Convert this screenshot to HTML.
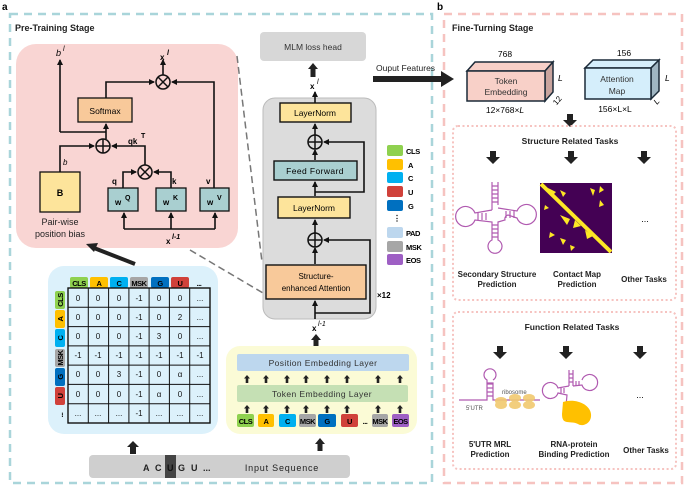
<!DOCTYPE html>
<html><head><meta charset="utf-8"><style>
body{margin:0;background:#fff}
text{font-family:"Liberation Sans",sans-serif;}
</style></head><body>
<svg width="685" height="486" viewBox="0 0 685 486" xmlns="http://www.w3.org/2000/svg">
<defs>
<marker id="ah" markerWidth="6" markerHeight="6" refX="5" refY="3" orient="auto" markerUnits="userSpaceOnUse"><path d="M0,0 L6,3 L0,6 Z" fill="#111"/></marker>
</defs>
<!-- panels -->
<text x="2" y="10" font-size="10" font-weight="bold">a</text>
<text x="437" y="10" font-size="10" font-weight="bold">b</text>
<rect x="10" y="14" width="422" height="469" fill="none" stroke="#a9d5da" stroke-width="2.5" stroke-dasharray="8,6"/>
<rect x="444" y="14" width="238" height="469" fill="none" stroke="#f6c3c0" stroke-width="2.5" stroke-dasharray="8,6"/>
<text x="15" y="31" font-size="9" font-weight="bold" fill="#222">Pre-Training Stage</text>
<text x="452" y="31" font-size="9" font-weight="bold" fill="#222">Fine-Turning Stage</text>

<!-- attention detail -->
<rect x="16" y="44" width="222" height="204" rx="20" fill="#f9d5d3"/>
<g stroke="#111" stroke-width="1.6" fill="none">
<line x1="60" y1="132" x2="60" y2="60" marker-end="url(#ah)"/>
<polyline points="106,132 60,132"/>
<line x1="106" y1="139" x2="106" y2="124" marker-end="url(#ah)"/>
<polyline points="106,98 106,82 154,82" marker-end="url(#ah)"/>
<polyline points="214,188 214,82 172,82" marker-end="url(#ah)"/>
<line x1="163" y1="75" x2="163" y2="60" marker-end="url(#ah)"/>
<polyline points="60,172 60,146 94,146" marker-end="url(#ah)"/>
<polyline points="145,165 145,146 112,146" marker-end="url(#ah)"/>
<polyline points="123,188 123,172 136,172" marker-end="url(#ah)"/>
<polyline points="171,188 171,172 154,172" marker-end="url(#ah)"/>
<polyline points="124,229 215,229"/>
<line x1="124" y1="229" x2="124" y2="213" marker-end="url(#ah)"/>
<line x1="171" y1="229" x2="171" y2="213" marker-end="url(#ah)"/>
<line x1="215" y1="229" x2="215" y2="213" marker-end="url(#ah)"/>
</g>
<g stroke="#111" stroke-width="1.5" fill="#f9d5d3">
<circle cx="163" cy="82" r="7"/><path d="M158,77 L168,87 M168,77 L158,87"/>
<circle cx="103" cy="146" r="7"/><path d="M96,146 H110 M103,139 V153"/>
<circle cx="145" cy="172" r="7"/><path d="M140,167 L150,177 M150,167 L140,177"/>
</g>
<rect x="78" y="98" width="54" height="24" fill="#f8c99a" stroke="#111" stroke-width="1.3"/>
<text x="105" y="114" font-size="8.5" text-anchor="middle">Softmax</text>
<rect x="40" y="172" width="40" height="40" fill="#fde49b" stroke="#111" stroke-width="1.3"/>
<text x="60" y="196" font-size="9" font-weight="bold" text-anchor="middle">B</text>
<text x="60" y="225" font-size="9" text-anchor="middle" fill="#222">Pair-wise</text>
<text x="60" y="237" font-size="9" text-anchor="middle" fill="#222">position bias</text>
<g fill="#a9cfd0" stroke="#111" stroke-width="1.3">
<rect x="108" y="188" width="30" height="23"/><rect x="156" y="188" width="30" height="23"/><rect x="200" y="188" width="29" height="23"/>
</g>
<g font-size="8" font-weight="bold">
<text x="115" y="205">w</text><text x="125" y="200" font-size="7">Q</text>
<text x="163" y="205">w</text><text x="173" y="200" font-size="7">K</text>
<text x="207" y="205">w</text><text x="217" y="200" font-size="7">V</text>
<text x="112" y="184">q</text><text x="172" y="184">k</text><text x="206" y="184">v</text>
<text x="128" y="144">qk</text><text x="141" y="138" font-size="7">T</text>
<text x="160" y="60">x</text><text x="167" y="55" font-size="7" font-style="italic">l</text>
<text x="166" y="244">x</text><text x="172" y="239" font-size="7" font-style="italic">l-1</text>
</g>
<text x="56" y="56" font-size="9" font-style="italic">b</text><text x="63" y="51" font-size="7" font-style="italic">l</text>
<text x="63" y="165" font-size="8" font-style="italic">b</text>

<!-- dashed connectors -->
<g stroke="#777" stroke-width="1.5" stroke-dasharray="7,4" fill="none">
<line x1="237" y1="56" x2="262" y2="262"/>
<line x1="190" y1="250" x2="263" y2="293"/>
</g>
<line x1="135" y1="264" x2="94" y2="248" stroke="#222" stroke-width="4"/>
<path d="M86,244 L98,243 L94,252 Z" fill="#222"/>

<!-- matrix -->
<rect x="48" y="266" width="170" height="168" rx="16" fill="#dcf1fb"/>
<g font-size="7.5" font-weight="bold" text-anchor="middle" letter-spacing="-0.5">
<rect x="70" y="277" width="18" height="11" rx="2" fill="#8fd14f"/><text x="79" y="286">CLS</text>
<rect x="90" y="277" width="18" height="11" rx="2" fill="#ffc000"/><text x="99" y="286">A</text>
<rect x="110" y="277" width="18" height="11" rx="2" fill="#00b0f0"/><text x="119" y="286">C</text>
<rect x="130" y="277" width="18" height="11" rx="2" fill="#a6a6a6"/><text x="139" y="286">MSK</text>
<rect x="151" y="277" width="18" height="11" rx="2" fill="#0070c0"/><text x="160" y="286">G</text>
<rect x="171" y="277" width="18" height="11" rx="2" fill="#d0413a"/><text x="180" y="286">U</text>
<text x="199" y="286">...</text>
<g transform="rotate(-90)">
<rect x="-309" y="55" width="18" height="10" rx="2" fill="#8fd14f"/><text x="-300" y="63">CLS</text>
<rect x="-328" y="55" width="18" height="10" rx="2" fill="#ffc000"/><text x="-319" y="63">A</text>
<rect x="-347" y="55" width="18" height="10" rx="2" fill="#00b0f0"/><text x="-338" y="63">C</text>
<rect x="-367" y="55" width="18" height="10" rx="2" fill="#a6a6a6"/><text x="-358" y="63">MSK</text>
<rect x="-386" y="55" width="18" height="10" rx="2" fill="#0070c0"/><text x="-377" y="63">G</text>
<rect x="-405" y="55" width="18" height="10" rx="2" fill="#d0413a"/><text x="-396" y="63">U</text>
<text x="-415" y="63">...</text>
</g>
</g>
<g stroke="#111" stroke-width="1" fill="none">
<rect x="68" y="288" width="142" height="135" stroke-width="1.4"/>
<path d="M88.3,288V423M108.6,288V423M128.9,288V423M149.1,288V423M169.4,288V423M189.7,288V423M68,307.3H210M68,326.6H210M68,345.9H210M68,365.1H210M68,384.4H210M68,403.7H210"/>
</g>
<g font-size="8" text-anchor="middle" fill="#111">
<text x="78" y="301">0</text><text x="98" y="301">0</text><text x="119" y="301">0</text><text x="139" y="301">-1</text><text x="159" y="301">0</text><text x="180" y="301">0</text><text x="200" y="301">...</text>
<text x="78" y="320">0</text><text x="98" y="320">0</text><text x="119" y="320">0</text><text x="139" y="320">-1</text><text x="159" y="320">0</text><text x="180" y="320">2</text><text x="200" y="320">...</text>
<text x="78" y="339">0</text><text x="98" y="339">0</text><text x="119" y="339">0</text><text x="139" y="339">-1</text><text x="159" y="339">3</text><text x="180" y="339">0</text><text x="200" y="339">...</text>
<text x="78" y="358">-1</text><text x="98" y="358">-1</text><text x="119" y="358">-1</text><text x="139" y="358">-1</text><text x="159" y="358">-1</text><text x="180" y="358">-1</text><text x="200" y="358">-1</text>
<text x="78" y="377">0</text><text x="98" y="377">0</text><text x="119" y="377">3</text><text x="139" y="377">-1</text><text x="159" y="377">0</text><text x="180" y="377">α</text><text x="200" y="377">...</text>
<text x="78" y="397">0</text><text x="98" y="397">0</text><text x="119" y="397">0</text><text x="139" y="397">-1</text><text x="159" y="397">α</text><text x="180" y="397">0</text><text x="200" y="397">...</text>
<text x="78" y="416">...</text><text x="98" y="416">...</text><text x="119" y="416">...</text><text x="139" y="416">-1</text><text x="159" y="416">...</text><text x="180" y="416">...</text><text x="200" y="416">...</text>
</g>
<path d="M133,441 L139,447 L136,447 L136,454 L130,454 L130,447 L127,447 Z" fill="#222"/>

<!-- input sequence -->
<rect x="89" y="455" width="261" height="23" rx="4" fill="#cfcfcf"/>
<rect x="165" y="455" width="11" height="23" fill="#444"/>
<text x="143" y="471" font-size="9" font-weight="bold" fill="#222">A</text>
<text x="155" y="471" font-size="9" font-weight="bold" fill="#222">C</text>
<text x="167" y="471" font-size="9" font-weight="bold" fill="#111">U</text>
<text x="178" y="471" font-size="9" font-weight="bold" fill="#222">G</text>
<text x="191" y="471" font-size="9" font-weight="bold" fill="#222">U</text>
<text x="203" y="471" font-size="9" font-weight="bold" fill="#222">...</text>
<text x="282" y="471" font-size="9" text-anchor="middle" fill="#222" letter-spacing="0.8">Input Sequence</text>

<!-- transformer -->
<rect x="260" y="32" width="106" height="29" rx="4" fill="#d7d7d7"/>
<text x="313" y="50" font-size="8.5" text-anchor="middle" fill="#333">MLM loss head</text>
<path d="M313,63 L318,69 L315.5,69 L315.5,77 L310.5,77 L310.5,69 L308,69 Z" fill="#222"/>
<text x="310" y="89" font-size="8" font-weight="bold">x</text><text x="317" y="84" font-size="7" font-style="italic">l</text>
<rect x="263" y="98" width="113" height="221" rx="12" fill="#dcdcdc" stroke="#bbb"/>
<g stroke="#111" stroke-width="1.6" fill="none">
<line x1="315" y1="103" x2="315" y2="92" marker-end="url(#ah)"/>
<line x1="315" y1="135" x2="315" y2="124" marker-end="url(#ah)"/>
<line x1="315" y1="160" x2="315" y2="150" marker-end="url(#ah)"/>
<line x1="315" y1="196" x2="315" y2="182" marker-end="url(#ah)"/>
<polyline points="315,192 364,192 364,142 324,142" marker-end="url(#ah)"/>
<line x1="315" y1="233" x2="315" y2="220" marker-end="url(#ah)"/>
<line x1="315" y1="264" x2="315" y2="248" marker-end="url(#ah)"/>
<line x1="315" y1="319" x2="315" y2="301" marker-end="url(#ah)"/>
<polyline points="315,313 370,313 370,240 324,240" marker-end="url(#ah)"/>
</g>
<g stroke="#111" stroke-width="1.5" fill="#dcdcdc">
<circle cx="315" cy="142" r="7"/><path d="M308,142H322M315,135V149"/>
<circle cx="315" cy="240" r="7"/><path d="M308,240H322M315,233V247"/>
</g>
<rect x="280" y="103" width="71" height="19" fill="#fde49b" stroke="#111" stroke-width="1.4"/>
<text x="315" y="116" font-size="8.5" text-anchor="middle">LayerNorm</text>
<rect x="274" y="161" width="83" height="19" fill="#a9cfd0" stroke="#111" stroke-width="1.4"/>
<text x="315" y="174" font-size="8.5" text-anchor="middle" letter-spacing="0.4">Feed Forward</text>
<rect x="278" y="197" width="72" height="21" fill="#fde49b" stroke="#111" stroke-width="1.4"/>
<text x="314" y="211" font-size="8.5" text-anchor="middle">LayerNorm</text>
<rect x="266" y="265" width="100" height="34" fill="#f8c99a" stroke="#111" stroke-width="1.4"/>
<text x="316" y="279" font-size="8" text-anchor="middle">Structure-</text>
<text x="316" y="291" font-size="8" text-anchor="middle">enhanced Attention</text>
<text x="377" y="298" font-size="8" font-weight="bold">×12</text>
<text x="312" y="331" font-size="8" font-weight="bold">x</text><text x="318" y="326" font-size="7" font-style="italic">l-1</text>
<path d="M316,334 L321,340 L318.5,340 L318.5,346 L313.5,346 L313.5,340 L311,340 Z" fill="#222"/>

<!-- legend -->
<g font-size="7.5" font-weight="bold" letter-spacing="-0.4">
<rect x="387" y="145" width="16" height="11" rx="2" fill="#8fd14f"/><text x="406" y="154">CLS</text>
<rect x="387" y="159" width="16" height="11" rx="2" fill="#ffc000"/><text x="408" y="168">A</text>
<rect x="387" y="172" width="16" height="11" rx="2" fill="#00b0f0"/><text x="408" y="181">C</text>
<rect x="387" y="186" width="16" height="11" rx="2" fill="#d0413a"/><text x="408" y="195">U</text>
<rect x="387" y="200" width="16" height="11" rx="2" fill="#0070c0"/><text x="408" y="209">G</text>
<text x="393" y="221" font-size="8">⋮</text>
<rect x="387" y="227" width="16" height="11" rx="2" fill="#bdd7ee"/><text x="406" y="236">PAD</text>
<rect x="387" y="241" width="16" height="11" rx="2" fill="#a6a6a6"/><text x="406" y="250">MSK</text>
<rect x="387" y="254" width="16" height="11" rx="2" fill="#9e5fc4"/><text x="406" y="263">EOS</text>
</g>

<!-- embedding box -->
<rect x="226" y="346" width="191" height="88" rx="14" fill="#fbfbd6"/>
<rect x="237" y="354" width="172" height="17" rx="2" fill="#bdd7ee"/>
<text x="323" y="366" font-size="8.5" text-anchor="middle" fill="#333" letter-spacing="0.4">Position Embedding Layer</text>
<rect x="237" y="385" width="171" height="17" rx="2" fill="#c5e0b4"/>
<text x="322" y="397" font-size="8.5" text-anchor="middle" fill="#333" letter-spacing="0.4">Token Embedding Layer</text>
<g fill="#222">
<path id="sa" d="M247,375 L250,378.5 L248.3,378.5 L248.3,383 L245.7,383 L245.7,378.5 L244,378.5 Z"/>
<use href="#sa" x="19"/><use href="#sa" x="40"/><use href="#sa" x="59"/><use href="#sa" x="80"/><use href="#sa" x="100"/><use href="#sa" x="131"/><use href="#sa" x="153"/>
<use href="#sa" y="30"/><use href="#sa" x="19" y="30"/><use href="#sa" x="40" y="30"/><use href="#sa" x="59" y="30"/><use href="#sa" x="80" y="30"/><use href="#sa" x="100" y="30"/><use href="#sa" x="131" y="30"/><use href="#sa" x="153" y="30"/>
</g>
<g font-size="7.5" font-weight="bold" text-anchor="middle" letter-spacing="-0.5">
<rect x="237" y="414" width="17" height="13" rx="2" fill="#8fd14f"/><text x="245.5" y="424">CLS</text>
<rect x="258" y="414" width="16" height="13" rx="2" fill="#ffc000"/><text x="266" y="424">A</text>
<rect x="279" y="414" width="17" height="13" rx="2" fill="#00b0f0"/><text x="287.5" y="424">C</text>
<rect x="299" y="414" width="17" height="13" rx="2" fill="#a6a6a6"/><text x="307.5" y="424">MSK</text>
<rect x="318" y="414" width="18" height="13" rx="2" fill="#0070c0"/><text x="327" y="424">G</text>
<rect x="341" y="414" width="17" height="13" rx="2" fill="#d0413a"/><text x="349.5" y="424">U</text>
<text x="365" y="424">...</text>
<rect x="372" y="414" width="16" height="13" rx="2" fill="#a6a6a6"/><text x="380" y="424">MSK</text>
<rect x="392" y="414" width="17" height="13" rx="2" fill="#9e5fc4"/><text x="400.5" y="424">EOS</text>
</g>
<path d="M320,438 L325,444 L322.5,444 L322.5,451 L317.5,451 L317.5,444 L315,444 Z" fill="#222"/>

<!-- output features arrow -->
<text x="376" y="71" font-size="8.5" fill="#222">Ouput Features</text>
<rect x="373" y="76" width="70" height="6" fill="#222"/>
<path d="M441,71 L454,79 L441,87 Z" fill="#222"/>

<!-- 3D boxes -->
<path d="M467,71 L475,62 L553,62 L545,71 Z" fill="#f8d0c8" stroke="#1b2a38" stroke-width="1.5"/>
<path d="M545,71 L553,62 L553,92 L545,101 Z" fill="#c9a49e" stroke="#1b2a38" stroke-width="1.5"/>
<rect x="467" y="71" width="78" height="30" fill="#f8d0c8" stroke="#1b2a38" stroke-width="1.5"/>
<text x="506" y="84" font-size="8.5" text-anchor="middle" fill="#333">Token</text>
<text x="506" y="95" font-size="8.5" text-anchor="middle" fill="#333">Embedding</text>
<text x="505" y="57" font-size="8.5" text-anchor="middle">768</text>
<text x="558" y="81" font-size="8.5" font-style="italic">L</text>
<text x="552" y="104" font-size="8" transform="rotate(-50 556 100)">12</text>
<text x="505" y="113" font-size="8.5" text-anchor="middle">12×768×<tspan font-style="italic">L</tspan></text>

<path d="M585,68 L593,60 L659,60 L651,68 Z" fill="#d5eefb" stroke="#1b2a38" stroke-width="1.5"/>
<path d="M651,68 L659,60 L659,91 L651,99 Z" fill="#9fb5c2" stroke="#1b2a38" stroke-width="1.5"/>
<rect x="585" y="68" width="66" height="31" fill="#d5eefb" stroke="#1b2a38" stroke-width="1.5"/>
<text x="617" y="82" font-size="8.5" text-anchor="middle" fill="#333">Attention</text>
<text x="617" y="94" font-size="8.5" text-anchor="middle" fill="#333">Map</text>
<text x="624" y="56" font-size="8.5" text-anchor="middle">156</text>
<text x="665" y="81" font-size="8.5" font-style="italic">L</text>
<text x="653" y="104" font-size="8" font-style="italic" transform="rotate(-50 656 100)">L</text>
<text x="615" y="112" font-size="8.5" text-anchor="middle">156×L×L</text>

<g fill="#222">
<path id="da" d="M567,114 L573,114 L573,120 L577,120 L570,127 L563,120 L567,120 Z"/>
<use href="#da" x="-77" y="37"/><use href="#da" x="1" y="37"/><use href="#da" x="74" y="37"/>
<use href="#da" x="-70" y="232"/><use href="#da" x="-4" y="232"/><use href="#da" x="70" y="232"/>
</g>

<!-- structure tasks -->
<rect x="453" y="126" width="223" height="174" rx="5" fill="none" stroke="#f6c3c0" stroke-width="2" stroke-dasharray="2,2.5"/>
<text x="570" y="144" font-size="8.5" font-weight="bold" text-anchor="middle" fill="#222">Structure Related Tasks</text>
<g stroke="#b05ab0" stroke-width="1.2" fill="none">
<path d="M492,182 V210 M498,182 V205"/>
<path d="M492,186h6M492,190h6M492,194h6M492,198h6M492,202h6M478,213v7M482,213v7M486,213v7M506,211v7M510,211v7M514,211v7M492,225h6M492,229h6M492,233h6M492,237h6"/>
<path d="M492,210 L475,213 A10,10 0 1 0 475,220 L492,222 V240 A7,7 0 1 0 498,240 V222 L505,220 A4,4 0 0 1 508,215 L517,218 A10,10 0 1 0 517,211 L498,208"/>
</g>
<rect x="540" y="183" width="72" height="70" fill="#440154"/>
<g stroke="#fde725" stroke-width="4" fill="none">
<line x1="541" y1="184" x2="611" y2="252"/>
</g>
<g fill="#fde725">
<path d="M548,188 l8,4 l-4,4 z M560,190 l6,3 l-3,4z M590,188 l5,2 l-2,6z M600,186 l4,4 l-5,3z M560,215 l10,4 l-3,6z M575,220 l6,6 l-8,2z M550,232 l5,3 l-6,3z M560,238 l6,2 l-3,5z M585,230 l8,6 l-6,3z M600,200 l4,5 l-5,2z M545,205 l4,3 l-5,2z M570,245 l5,2 l-4,4z"/>
</g>
<text x="645" y="222" font-size="9" text-anchor="middle">...</text>
<g font-size="8" font-weight="bold" text-anchor="middle" fill="#222">
<text x="497" y="277">Secondary Structure</text><text x="497" y="287">Prediction</text>
<text x="577" y="277">Contact Map</text><text x="577" y="287">Prediction</text>
<text x="644" y="282">Other Tasks</text>
</g>

<!-- function tasks -->
<rect x="453" y="312" width="223" height="157" rx="5" fill="none" stroke="#f6c3c0" stroke-width="2" stroke-dasharray="2,2.5"/>
<text x="572" y="330" font-size="8.5" font-weight="bold" text-anchor="middle" fill="#222">Function Related Tasks</text>
<g stroke="#b05ab0" stroke-width="1.2" fill="none">
<path d="M459,400 H487 V383 H493 V400 H540 M487,383 V380 A6,6 0 1 1 493,380"/>
<path d="M487,384h6M487,388h6M487,392h6M487,396h6"/>
<path d="M569,370 V386 M573,370 V386 M569,374h4M569,378h4M569,382h4"/>
<path d="M569,386 L558,388 A8,8 0 1 0 558,393 L567,395 L566,406 M573,386 L582,385 A8,8 0 1 0 582,380"/>
<path d="M561,388v5M564,388v5M576,381v5M579,381v5"/>
</g>
<g fill="#f1c970" opacity="0.9">
<ellipse cx="501" cy="401" rx="6" ry="4"/><ellipse cx="515" cy="398" rx="6" ry="4"/><ellipse cx="529" cy="398" rx="6" ry="4"/>
<ellipse cx="501" cy="405" rx="6" ry="4"/><ellipse cx="515" cy="405" rx="6" ry="4"/><ellipse cx="529" cy="405" rx="6" ry="4"/>
</g>
<text x="502" y="394" font-size="6" fill="#555">ribosome</text>
<text x="466" y="410" font-size="6" fill="#555">5'UTR</text>
<path d="M563,402 C575,398 590,404 591,414 C592,424 582,427 578,424 C570,420 562,426 562,414 Z" fill="#ffc000"/>
<text x="640" y="398" font-size="9" text-anchor="middle">...</text>
<g font-size="8" font-weight="bold" text-anchor="middle" fill="#222">
<text x="490" y="447">5'UTR MRL</text><text x="490" y="457">Prediction</text>
<text x="574" y="447">RNA-protein</text><text x="574" y="457">Binding Prediction</text>
<text x="646" y="453">Other Tasks</text>
</g>
</svg>
</body></html>
